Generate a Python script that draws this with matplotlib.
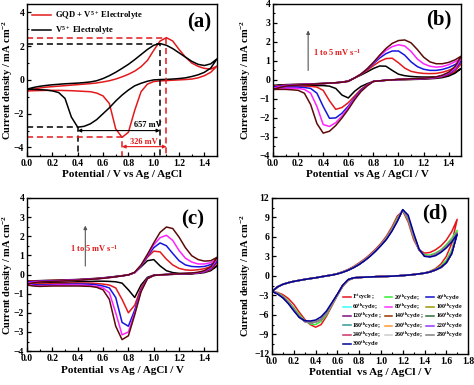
import matplotlib.pyplot as plt
import numpy as np
from matplotlib.ticker import MultipleLocator

plt.rcParams['font.family'] = ['Liberation Serif', 'DejaVu Serif']
plt.rcParams['font.weight'] = 'bold'
plt.rcParams['mathtext.fontset'] = 'custom'
plt.rcParams['mathtext.rm'] = 'Liberation Serif:bold'
plt.rcParams['mathtext.bf'] = 'Liberation Serif:bold'
plt.rcParams['mathtext.it'] = 'Liberation Serif:bold'
plt.rcParams['mathtext.default'] = 'bf'

# ---------------- data ----------------
# potential sampling (V vs Ag/AgCl)
pot15 = np.linspace(0, 1.5, 31)
pot17 = np.linspace(0, 1.7, 35)

# (a) anodic (up) and cathodic (dn) branches, mA cm-2
a_v5_up = [-0.55, -0.45, -0.38, -0.33, -0.29, -0.26, -0.23, -0.21, -0.19, -0.16, -0.12, -0.05, 0.08, 0.25, 0.45,
           0.68, 0.92, 1.2, 1.5, 1.8, 2.05, 2.15, 2.05, 1.85, 1.6, 1.35, 1.1, 0.92, 0.85, 0.95, 1.25]
a_v5_dn = [-0.55, -0.56, -0.58, -0.6, -0.65, -0.75, -1.1, -2.2, -2.8, -2.75, -2.6, -2.35, -2.0, -1.65, -1.25,
           -0.9, -0.6, -0.35, -0.2, -0.08, 0.0, 0.02, 0.03, 0.05, 0.08, 0.12, 0.2, 0.3, 0.45, 0.7, 1.25]
a_gqd_up = [-0.65, -0.55, -0.48, -0.43, -0.4, -0.37, -0.34, -0.31, -0.28, -0.25, -0.22, -0.18, -0.12, -0.05, 0.05,
            0.18, 0.33, 0.52, 0.78, 1.15, 1.75, 2.3, 2.5, 2.3, 1.8, 1.35, 1.0, 0.8, 0.68, 0.64, 0.82]
a_gqd_dn = [-0.65, -0.64, -0.63, -0.62, -0.62, -0.62, -0.63, -0.64, -0.66, -0.68, -0.7, -0.78, -0.95, -1.4, -2.9,
            -3.4, -3.1, -1.8, -0.7, -0.25, -0.1, -0.06, -0.04, -0.02, 0.0, 0.02, 0.05, 0.12, 0.25, 0.45, 0.82]
a_labels = ['GQD + V$^{5+}$ Electrolyte', 'V$^{5+}$ Electrolyte']
a_sep = ['657 mV', '326 mV']

# (b) scan rates 1..5 mV/s
b_up = [
    [-0.3, -0.27, -0.25, -0.24, -0.23, -0.22, -0.21, -0.2, -0.19, -0.17, -0.15, -0.12, -0.05, 0.1, 0.25, 0.42,
     0.6, 0.73, 0.72, 0.5, 0.3, 0.22, 0.18, 0.16, 0.15, 0.15, 0.16, 0.2, 0.28, 0.4, 0.6],
    [-0.35, -0.3, -0.27, -0.25, -0.24, -0.23, -0.21, -0.2, -0.19, -0.17, -0.15, -0.12, -0.06, 0.1, 0.28, 0.5,
     0.75, 0.97, 1.12, 1.14, 0.9, 0.62, 0.45, 0.38, 0.34, 0.33, 0.34, 0.4, 0.5, 0.65, 0.85],
    [-0.4, -0.33, -0.29, -0.27, -0.25, -0.24, -0.22, -0.2, -0.19, -0.17, -0.15, -0.12, -0.07, 0.1, 0.3, 0.55,
     0.85, 1.15, 1.38, 1.52, 1.52, 1.3, 0.95, 0.7, 0.56, 0.5, 0.5, 0.55, 0.65, 0.8, 1.0],
    [-0.45, -0.36, -0.31, -0.28, -0.26, -0.24, -0.22, -0.21, -0.19, -0.17, -0.15, -0.12, -0.07, 0.1, 0.3, 0.57,
     0.9, 1.25, 1.55, 1.75, 1.85, 1.78, 1.5, 1.1, 0.85, 0.72, 0.67, 0.7, 0.8, 0.95, 1.12],
    [-0.5, -0.4, -0.33, -0.29, -0.27, -0.25, -0.23, -0.21, -0.19, -0.17, -0.15, -0.12, -0.08, 0.1, 0.3, 0.58,
     0.92, 1.3, 1.65, 1.92, 2.07, 2.1, 1.95, 1.6, 1.2, 0.95, 0.85, 0.85, 0.92, 1.05, 1.25],
]
b_dn = [
    [-0.3, -0.3, -0.3, -0.3, -0.3, -0.3, -0.3, -0.3, -0.3, -0.33, -0.45, -0.8, -0.95, -0.6, -0.35, -0.2,
     -0.08, -0.05, -0.02, 0.0, 0.01, 0.01, 0.02, 0.03, 0.04, 0.06, 0.08, 0.12, 0.2, 0.35, 0.6],
    [-0.35, -0.34, -0.33, -0.33, -0.33, -0.33, -0.34, -0.38, -0.55, -1.1, -1.55, -1.45, -1.2, -0.85, -0.5, -0.25,
     -0.08, -0.05, -0.02, 0.0, 0.02, 0.02, 0.03, 0.04, 0.06, 0.08, 0.11, 0.17, 0.28, 0.45, 0.85],
    [-0.4, -0.39, -0.38, -0.38, -0.38, -0.4, -0.45, -0.7, -1.4, -2.02, -2.0, -1.75, -1.38, -0.95, -0.55, -0.28,
     -0.08, -0.05, -0.02, 0.0, 0.02, 0.03, 0.04, 0.05, 0.07, 0.09, 0.13, 0.2, 0.32, 0.55, 1.0],
    [-0.45, -0.44, -0.44, -0.44, -0.45, -0.5, -0.7, -1.4, -2.35, -2.45, -2.25, -1.9, -1.45, -1.0, -0.6, -0.3,
     -0.08, -0.05, -0.02, 0.0, 0.03, 0.04, 0.05, 0.06, 0.08, 0.1, 0.14, 0.22, 0.36, 0.6, 1.12],
    [-0.5, -0.5, -0.5, -0.52, -0.55, -0.7, -1.3, -2.3, -2.8, -2.7, -2.4, -2.0, -1.55, -1.05, -0.62, -0.32,
     -0.08, -0.05, -0.02, 0.0, 0.03, 0.04, 0.06, 0.07, 0.09, 0.12, 0.16, 0.25, 0.4, 0.7, 1.25],
]

# (c) scan rates 1..5 mV/s (GQD)
c_up = [
    [-0.35, -0.33, -0.32, -0.31, -0.3, -0.29, -0.28, -0.27, -0.26, -0.24, -0.22, -0.2, -0.17, -0.14, -0.1, -0.06,
     -0.02, 0.1, 0.4, 0.72, 0.78, 0.45, 0.2, 0.1, 0.06, 0.05, 0.05, 0.08, 0.15, 0.25, 0.45],
    [-0.35, -0.34, -0.33, -0.32, -0.31, -0.3, -0.29, -0.28, -0.27, -0.25, -0.23, -0.21, -0.18, -0.15, -0.11, -0.07,
     -0.02, 0.1, 0.45, 0.9, 1.22, 1.18, 0.8, 0.5, 0.32, 0.24, 0.22, 0.25, 0.3, 0.42, 0.6],
    [-0.4, -0.37, -0.35, -0.34, -0.33, -0.32, -0.31, -0.3, -0.28, -0.26, -0.24, -0.22, -0.19, -0.15, -0.11, -0.07,
     -0.02, 0.1, 0.45, 0.95, 1.4, 1.65, 1.5, 1.1, 0.72, 0.5, 0.42, 0.4, 0.42, 0.52, 0.7],
    [-0.45, -0.4, -0.37, -0.36, -0.35, -0.34, -0.32, -0.31, -0.29, -0.27, -0.25, -0.22, -0.19, -0.16, -0.12, -0.07,
     -0.02, 0.1, 0.47, 1.0, 1.55, 1.92, 2.05, 1.78, 1.25, 0.85, 0.65, 0.55, 0.55, 0.62, 0.8],
    [-0.5, -0.43, -0.39, -0.37, -0.36, -0.35, -0.33, -0.32, -0.3, -0.28, -0.25, -0.23, -0.2, -0.16, -0.12, -0.07,
     -0.02, 0.12, 0.5, 1.05, 1.65, 2.2, 2.48, 2.4, 1.95, 1.4, 0.98, 0.78, 0.7, 0.72, 0.9],
]
c_dn = [
    [-0.35, -0.4, -0.45, -0.42, -0.4, -0.4, -0.4, -0.39, -0.38, -0.37, -0.36, -0.35, -0.35, -0.36, -0.38, -0.45,
     -0.8, -1.2, -0.55, -0.15, -0.03, -0.01, 0.0, 0.01, 0.02, 0.03, 0.04, 0.06, 0.1, 0.2, 0.45],
    [-0.4, -0.47, -0.5, -0.49, -0.48, -0.47, -0.46, -0.45, -0.45, -0.45, -0.45, -0.47, -0.5, -0.55, -0.7, -1.3,
     -2.0, -1.6, -0.7, -0.2, -0.05, -0.02, 0.0, 0.01, 0.03, 0.04, 0.05, 0.08, 0.13, 0.25, 0.6],
    [-0.45, -0.52, -0.55, -0.54, -0.53, -0.52, -0.51, -0.5, -0.5, -0.5, -0.51, -0.54, -0.6, -0.7, -1.2, -2.5,
     -2.7, -1.85, -0.8, -0.2, -0.05, -0.02, 0.0, 0.01, 0.03, 0.05, 0.06, 0.09, 0.15, 0.3, 0.7],
    [-0.5, -0.57, -0.6, -0.58, -0.56, -0.55, -0.55, -0.55, -0.55, -0.56, -0.58, -0.62, -0.7, -0.95, -2.0, -3.15,
     -3.0, -2.0, -0.85, -0.22, -0.05, -0.02, 0.0, 0.02, 0.04, 0.05, 0.07, 0.1, 0.17, 0.35, 0.8],
    [-0.55, -0.6, -0.62, -0.61, -0.6, -0.6, -0.6, -0.6, -0.6, -0.61, -0.62, -0.67, -0.8, -1.3, -2.7, -3.4,
     -3.2, -2.1, -0.9, -0.22, -0.05, -0.02, 0.0, 0.02, 0.04, 0.06, 0.08, 0.12, 0.2, 0.4, 0.9],
]
rate_colors = ['black', '#e31a1c', '#1515e0', '#ff22ff', '#5c0a0a']

# (d) cycling, read shapes of 1st, 20th, middle cycles, 300th
d_up_1st = [-2.4, -1.7, -1.3, -1.05, -0.85, -0.7, -0.55, -0.42, -0.3, -0.15, 0.0, 0.15, 0.35, 0.65, 1.0, 1.45, 2.0,
            2.6, 3.3, 4.1, 5.0, 6.1, 7.5, 9.2, 10.0, 8.3, 5.6, 4.0, 3.5, 3.6, 4.0, 4.6, 5.5, 6.8, 8.7]
d_dn_1st = [-2.4, -2.55, -2.9, -3.5, -4.4, -5.6, -6.7, -7.5, -7.9, -7.5, -6.2, -4.6, -3.0, -1.6, -0.7, -0.35, -0.25,
            -0.2, -0.18, -0.14, -0.1, -0.08, -0.05, 0.0, 0.05, 0.12, 0.2, 0.3, 0.45, 0.7, 1.1, 1.8, 3.0, 5.0, 8.7]
d_up_20th = [-2.4, -1.7, -1.3, -1.05, -0.85, -0.7, -0.55, -0.42, -0.3, -0.15, 0.0, 0.14, 0.33, 0.6, 0.93, 1.35, 1.88,
             2.48, 3.15, 3.95, 4.85, 5.9, 7.25, 8.9, 10.1, 8.6, 5.9, 4.0, 3.25, 3.2, 3.5, 4.0, 4.8, 5.8, 7.0]
d_dn_20th = [-2.4, -2.6, -3.1, -3.9, -4.9, -6.0, -6.9, -7.4, -7.5, -7.0, -6.0, -4.5, -3.0, -1.5, -0.65, -0.32, -0.25,
             -0.2, -0.17, -0.13, -0.1, -0.08, -0.05, 0.0, 0.05, 0.12, 0.2, 0.3, 0.43, 0.65, 1.0, 1.5, 2.4, 4.0, 7.0]
d_up_mid = [-2.4, -1.7, -1.3, -1.05, -0.85, -0.7, -0.55, -0.42, -0.3, -0.15, 0.0, 0.13, 0.32, 0.58, 0.9, 1.3, 1.8,
            2.4, 3.08, 3.87, 4.75, 5.75, 7.05, 8.6, 10.1, 8.95, 6.2, 4.0, 3.1, 3.0, 3.3, 3.8, 4.5, 5.4, 6.6]
d_dn_mid = [-2.4, -2.7, -3.3, -4.1, -5.2, -6.3, -7.0, -7.2, -7.1, -6.7, -5.7, -4.3, -2.9, -1.45, -0.6, -0.3, -0.25,
            -0.2, -0.17, -0.13, -0.1, -0.08, -0.05, 0.0, 0.05, 0.12, 0.2, 0.3, 0.42, 0.6, 0.9, 1.3, 2.0, 3.5, 6.6]
d_up_300th = [-2.4, -1.7, -1.3, -1.05, -0.85, -0.7, -0.55, -0.42, -0.3, -0.15, 0.0, 0.12, 0.3, 0.55, 0.87, 1.27, 1.75,
              2.33, 3.0, 3.78, 4.65, 5.6, 6.85, 8.35, 10.2, 9.35, 6.6, 4.1, 3.0, 2.9, 3.1, 3.6, 4.3, 5.2, 6.4]
d_dn_300th = [-2.4, -2.8, -3.4, -4.3, -5.4, -6.4, -6.9, -6.95, -6.8, -6.3, -5.4, -4.1, -2.8, -1.4, -0.55, -0.3, -0.25,
              -0.2, -0.17, -0.13, -0.1, -0.08, -0.05, 0.0, 0.05, 0.12, 0.2, 0.3, 0.42, 0.6, 0.9, 1.3, 2.0, 3.4, 6.4]

d_cycles = ['1$^{st}$cycle ;', '20$^{th}$cycle;', '40$^{th}$cycle', '60$^{th}$cycle;', '80$^{th}$cycle;',
            '100$^{th}$cycle', '120$^{th}$cycle ;', '140$^{th}$cycle ;', '160$^{th}$cycle', '180$^{th}$cycle;',
            '200$^{th}$cycle;', '220$^{th}$cycle', '240$^{th}$cycle;', '260$^{th}$cycle;', '280$^{th}$cycle',
            '300$^{th}$cycle']
d_colors = ['#e8141c', '#33ee33', '#1010d0', '#33ffff', '#ff33ff', '#999900', '#7f107f', '#993300', '#2f6f3f',
            '#339999', '#ff9933', '#9933ff', '#cc3366', '#cccccc', '#808080', '#000099']
d_shape = ['1st', '20th', 'mid', 'mid', 'mid', 'mid', 'mid', 'mid', 'mid', 'mid', 'mid', 'mid', 'mid', 'mid',
           'mid', '300th']
d_curves = {'1st': (d_up_1st, d_dn_1st), '20th': (d_up_20th, d_dn_20th),
            'mid': (d_up_mid, d_dn_mid), '300th': (d_up_300th, d_dn_300th)}


def loop(x, up, dn):
    x = np.asarray(x)
    return np.r_[x, x[::-1]], np.r_[up, np.asarray(dn)[::-1]]


def style(ax, xlim, ylim, xstep, ystep, xlabel, ylabel, ylab_x):
    ax.set_xlim(*xlim)
    ax.set_ylim(*ylim)
    ax.xaxis.set_major_locator(MultipleLocator(xstep))
    ax.xaxis.set_minor_locator(MultipleLocator(xstep / 2))
    ax.yaxis.set_major_locator(MultipleLocator(ystep))
    ax.yaxis.set_minor_locator(MultipleLocator(ystep / 2))
    ax.tick_params(which='both', direction='in', labelsize=7, pad=2)
    ax.tick_params(which='major', length=3, width=0.9)
    ax.tick_params(which='minor', length=1.5, width=0.8)
    for sp in ax.spines.values():
        sp.set_linewidth(1.0)
    ax.set_xlabel(xlabel, fontsize=8, fontweight='bold', labelpad=2)
    ax.set_ylabel(ylabel, fontsize=7.5, fontweight='bold')
    # label coordinate is the right-hand edge of the rotated text
    ax.yaxis.set_label_coords(ylab_x, 0.5)


fig = plt.figure(figsize=(4.74, 3.85), dpi=100)
ax_a = fig.add_axes([0.057, 0.595, 0.401, 0.395])
ax_b = fig.add_axes([0.576, 0.595, 0.397, 0.395])
ax_c = fig.add_axes([0.057, 0.088, 0.401, 0.398])
ax_d = fig.add_axes([0.574, 0.081, 0.4135, 0.405])

red = '#e31a1c'

# ---- (a)
xg, yg = loop(pot15, a_gqd_up, a_gqd_dn)
ax_a.plot(xg, yg, color=red, lw=1.1, label=a_labels[0])
xv, yv = loop(pot15, a_v5_up, a_v5_dn)
ax_a.plot(xv, yv, color='black', lw=1.1, label=a_labels[1])
style(ax_a, (0, 1.5), (-4.5, 4.5), 0.2, 2, 'Potential / V vs Ag / AgCl', 'Current density / mA cm$^{-2}$', -0.063)

ybot = -4.5
for up, dn, col, off in [(a_v5_up, a_v5_dn, 'black', 0.2), (a_gqd_up, a_gqd_dn, red, 0.55)]:
    iu, idn = int(np.argmax(up)), int(np.argmin(dn))
    ax_a.plot([0, pot15[iu], pot15[iu]], [up[iu], up[iu], ybot], ls='--', color=col, lw=1.1, dashes=(4, 2.5))
    ax_a.plot([0, pot15[idn], pot15[idn]], [dn[idn], dn[idn], ybot], ls='--', color=col, lw=1.1, dashes=(4, 2.5))
    yarr = dn[idn] - off
    ax_a.annotate('', xy=(pot15[iu], yarr), xytext=(pot15[idn], yarr),
                  arrowprops=dict(arrowstyle='<|-|>', color=col, lw=0.8, mutation_scale=5, shrinkA=0, shrinkB=0))
ax_a.text(0.95, -2.68, a_sep[0], fontsize=6, ha='center', va='center', color='black')
ax_a.text(0.92, -3.67, a_sep[1], fontsize=6, ha='center', va='center', color=red)
ax_a.legend(loc='upper left', fontsize=6.2, frameon=False, handlelength=2.2, borderaxespad=0.2,
            labelspacing=0.2, handletextpad=0.5)
ax_a.text(0.905, 0.88, '(a)', transform=ax_a.transAxes, fontsize=15, fontweight='bold', ha='center', va='center')

# ---- (b)
for k in range(5):
    x, y = loop(pot15, b_up[k], b_dn[k])
    ax_b.plot(x, y, color=rate_colors[k], lw=1.1)
style(ax_b, (0, 1.5), (-4, 4), 0.2, 1, 'Potential  vs Ag / AgCl / V', 'Current density / mA cm$^{-2}$', -0.106)
ax_b.annotate('', xy=(0.28, 2.75), xytext=(0.28, 0.35),
              arrowprops=dict(arrowstyle='-|>', color='#555555', lw=0.8, mutation_scale=5))
ax_b.text(0.32, 1.45, '1 to 5 mV s$^{-1}$', fontsize=6, color=red, va='center')
ax_b.text(0.88, 0.895, '(b)', transform=ax_b.transAxes, fontsize=15, fontweight='bold', ha='center', va='center')

# ---- (c)
for k in range(5):
    x, y = loop(pot15, c_up[k], c_dn[k])
    ax_c.plot(x, y, color=rate_colors[k], lw=1.1)
style(ax_c, (0, 1.5), (-4, 4), 0.2, 1, 'Potential  vs Ag / AgCl / V', 'Current density / mA cm$^{-2}$', -0.063)
ax_c.annotate('', xy=(0.46, 2.7), xytext=(0.46, 0.3),
              arrowprops=dict(arrowstyle='-|>', color='#555555', lw=0.8, mutation_scale=5))
ax_c.text(0.34, 1.35, '1 to 5 mV s$^{-1}$', fontsize=6, color=red, va='center')
ax_c.text(0.87, 0.86, '(c)', transform=ax_c.transAxes, fontsize=15, fontweight='bold', ha='center', va='center')

# ---- (d)
handles = []
for lab, col, sh in zip(d_cycles, d_colors, d_shape):
    up, dn = d_curves[sh]
    x, y = loop(pot17, up, dn)
    h, = ax_d.plot(x, y, color=col, lw=1.1, label=lab)
    handles.append(h)
style(ax_d, (0, 1.8), (-12, 12), 0.2, 3, 'Potential  vs Ag / AgCl / V', 'Currend density / mA cm$^{-2}$', -0.095)
ax_d.yaxis.set_minor_locator(MultipleLocator(1.5))
ax_d.xaxis.set_minor_locator(MultipleLocator(0.1))
# legend is filled row by row in the original; matplotlib fills columns
order = [0, 3, 6, 9, 12, 15, 1, 4, 7, 10, 13, 2, 5, 8, 11, 14]
ax_d.legend([handles[i] for i in order], [d_cycles[i] for i in order], ncol=3, fontsize=4.2, frameon=False,
            loc='upper left', bbox_to_anchor=(0.35, 0.41), handlelength=1.3, handletextpad=0.3,
            columnspacing=0.4, labelspacing=-0.15, borderaxespad=0)
ax_d.text(0.83, 0.9, '(d)', transform=ax_d.transAxes, fontsize=15, fontweight='bold', ha='center', va='center')

fig.savefig('out.png', dpi=100)
